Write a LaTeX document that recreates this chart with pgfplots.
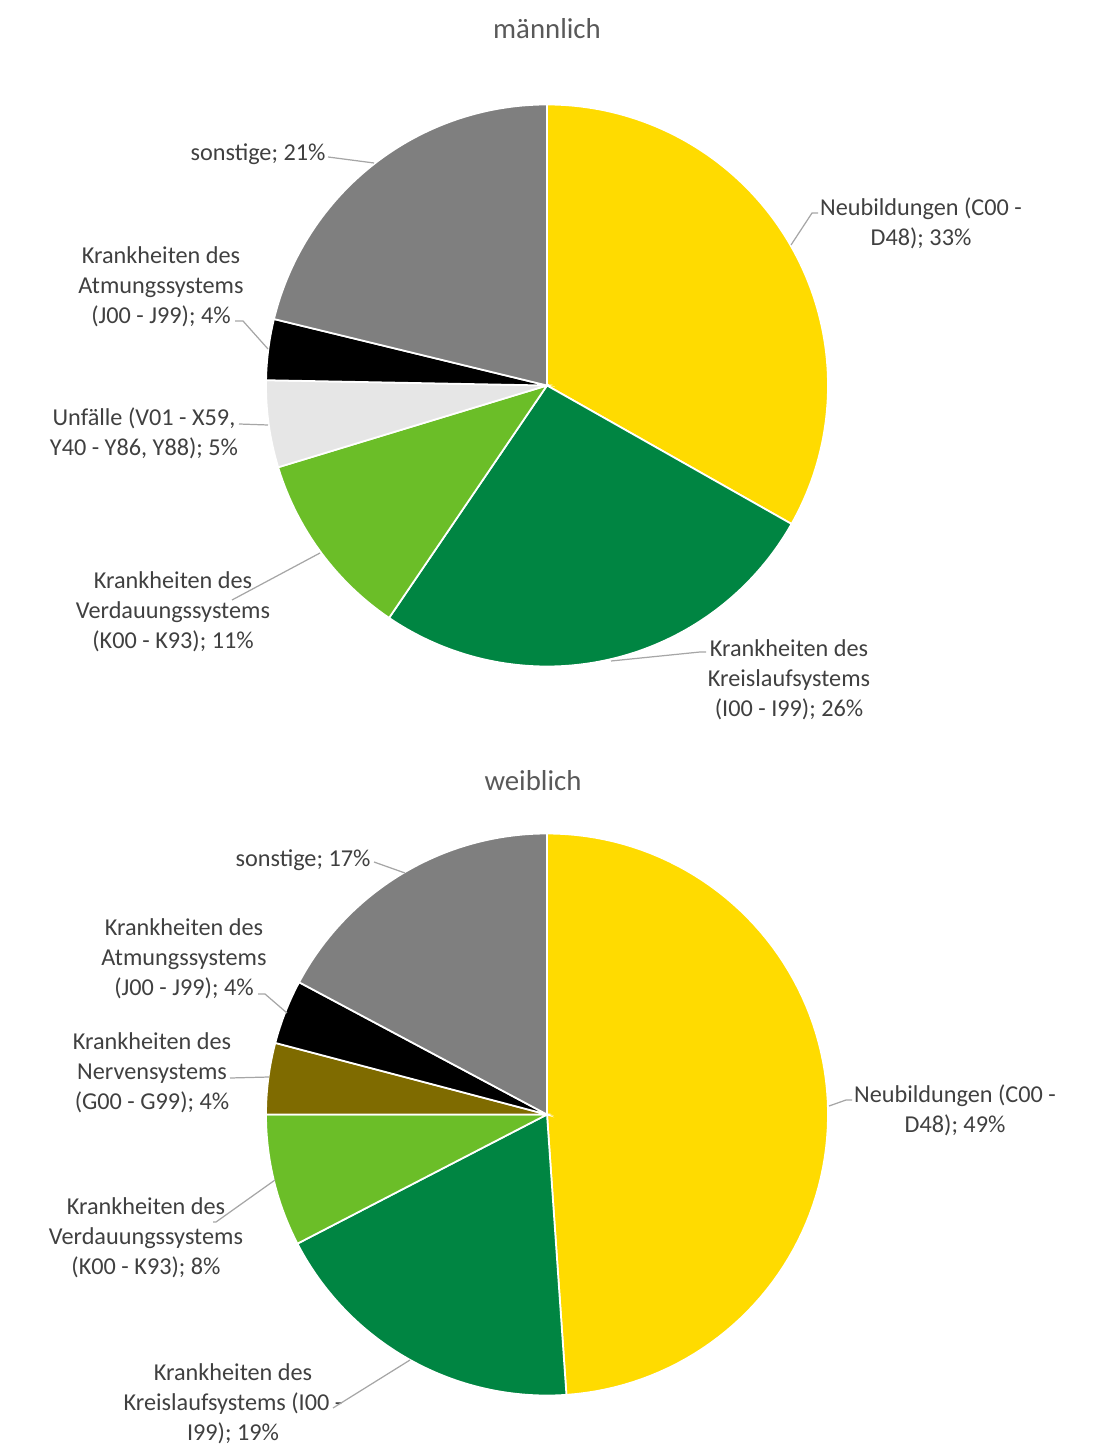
\documentclass[border=0pt]{standalone}
\usepackage{pgfplots}
\pgfplotsset{compat=1.18}
\usepackage{fontspec}
\setmainfont{Carlito}
\definecolor{cyellow}{HTML}{FFDB00}
\definecolor{cdgreen}{HTML}{008542}
\definecolor{clgreen}{HTML}{6BBE28}
\definecolor{clgray}{HTML}{E6E6E6}
\definecolor{cgray}{HTML}{7F7F7F}
\definecolor{cbrown}{HTML}{7F6B00}
\definecolor{ctext}{HTML}{404040}
\definecolor{ctitle}{HTML}{595959}
\definecolor{cline}{HTML}{A6A6A6}
\tikzset{
  lab/.style={align=center, text=ctext, font=\fontsize{6.9}{8.54}\selectfont, inner sep=0pt, yshift=-0.6pt},
  tit/.style={text=ctitle, font=\fontsize{8.2}{10}\selectfont, inner sep=0pt},
  ldr/.style={draw=cline, line width=0.35pt},
}
\begin{document}
\begin{tikzpicture}
\begin{axis}[
  at={(0,0)}, anchor=south west,
  scale only axis, width=10.95cm, height=14.53cm,
  xmin=0, xmax=1095, ymin=0, ymax=1453, y dir=reverse,
  hide axis, clip=false,
  every axis plot/.append style={draw=white, line width=0.5pt, samples=90, variable=\t},
]
\path (axis cs:0,0) rectangle (axis cs:1095,1453);
% ---- maennlich: shares (percent) 33.2, 26.3, 10.8, 5.0, 3.5, 21.2
\addplot[fill=cyellow, domain=0:33.2]   ({547+281*sin(3.6*\t)},{385.5-281*cos(3.6*\t)}) -- (axis cs:547,385.5) -- cycle;
\addplot[fill=cdgreen, domain=33.2:59.5] ({547+281*sin(3.6*\t)},{385.5-281*cos(3.6*\t)}) -- (axis cs:547,385.5) -- cycle;
\addplot[fill=clgreen, domain=59.5:70.3] ({547+281*sin(3.6*\t)},{385.5-281*cos(3.6*\t)}) -- (axis cs:547,385.5) -- cycle;
\addplot[fill=clgray, domain=70.3:75.3]  ({547+281*sin(3.6*\t)},{385.5-281*cos(3.6*\t)}) -- (axis cs:547,385.5) -- cycle;
\addplot[fill=black, domain=75.3:78.8]   ({547+281*sin(3.6*\t)},{385.5-281*cos(3.6*\t)}) -- (axis cs:547,385.5) -- cycle;
\addplot[fill=cgray, domain=78.8:100]    ({547+281*sin(3.6*\t)},{385.5-281*cos(3.6*\t)}) -- (axis cs:547,385.5) -- cycle;
% ---- weiblich: shares 48.9, 18.5, 7.6, 4.1, 3.7, 17.2
\addplot[fill=cyellow, domain=0:48.9]    ({547+281*sin(3.6*\t)},{1114.5-281*cos(3.6*\t)}) -- (axis cs:547,1114.5) -- cycle;
\addplot[fill=cdgreen, domain=48.9:67.4] ({547+281*sin(3.6*\t)},{1114.5-281*cos(3.6*\t)}) -- (axis cs:547,1114.5) -- cycle;
\addplot[fill=clgreen, domain=67.4:75.0] ({547+281*sin(3.6*\t)},{1114.5-281*cos(3.6*\t)}) -- (axis cs:547,1114.5) -- cycle;
\addplot[fill=cbrown, domain=75.0:79.1]  ({547+281*sin(3.6*\t)},{1114.5-281*cos(3.6*\t)}) -- (axis cs:547,1114.5) -- cycle;
\addplot[fill=black, domain=79.1:82.8]   ({547+281*sin(3.6*\t)},{1114.5-281*cos(3.6*\t)}) -- (axis cs:547,1114.5) -- cycle;
\addplot[fill=cgray, domain=82.8:100]    ({547+281*sin(3.6*\t)},{1114.5-281*cos(3.6*\t)}) -- (axis cs:547,1114.5) -- cycle;
% titles
\node[tit] at (axis cs:547,29) {männlich};
\node[tit] at (axis cs:533,781) {weiblich};
% male labels
\node[lab] at (axis cs:258,152) {sonstige; 21\%};
\draw[ldr] (axis cs:328,157) -- (axis cs:374,163);
\node[lab] at (axis cs:161,285) {Krankheiten des\\Atmungssystems\\(J00 - J99); 4\%};
\draw[ldr] (axis cs:235,321) -- (axis cs:243,321) -- (axis cs:268,349);
\node[lab] at (axis cs:144,431) {Unfälle (V01 - X59,\\Y40 - Y86, Y88); 5\%};
\draw[ldr] (axis cs:239,424) -- (axis cs:268,425);
\node[lab] at (axis cs:173,610) {Krankheiten des\\Verdauungssystems\\(K00 - K93); 11\%};
\draw[ldr] (axis cs:232,600) -- (axis cs:320,553);
\node[lab] at (axis cs:921,221) {Neubildungen (C00 -\\D48); 33\%};
\draw[ldr] (axis cs:818,213) -- (axis cs:812,213) -- (axis cs:791,245);
\node[lab] at (axis cs:789,678) {Krankheiten des\\Kreislaufsystems\\(I00 - I99); 26\%};
\draw[ldr] (axis cs:706,652) -- (axis cs:700,652) -- (axis cs:611,661);
% female labels
\node[lab] at (axis cs:303,858) {sonstige; 17\%};
\draw[ldr] (axis cs:374,862) -- (axis cs:405,873);
\node[lab] at (axis cs:184,957) {Krankheiten des\\Atmungssystems\\(J00 - J99); 4\%};
\draw[ldr] (axis cs:258,994) -- (axis cs:265,994) -- (axis cs:287,1013);
\node[lab] at (axis cs:152,1071) {Krankheiten des\\Nervensystems\\(G00 - G99); 4\%};
\draw[ldr] (axis cs:230,1078) -- (axis cs:269,1077);
\node[lab] at (axis cs:146,1236) {Krankheiten des\\Verdauungssystems\\(K00 - K93); 8\%};
\draw[ldr] (axis cs:213,1222) -- (axis cs:216,1222) -- (axis cs:275,1180);
\node[lab] at (axis cs:955,1108) {Neubildungen (C00 -\\D48); 49\%};
\draw[ldr] (axis cs:852,1100) -- (axis cs:846,1100) -- (axis cs:829,1106);
\node[lab] at (axis cs:233,1402) {Krankheiten des\\Kreislaufsystems (I00 -\\I99); 19\%};
\draw[ldr] (axis cs:333,1408) -- (axis cs:410,1360);
\end{axis}
\end{tikzpicture}
\end{document}
